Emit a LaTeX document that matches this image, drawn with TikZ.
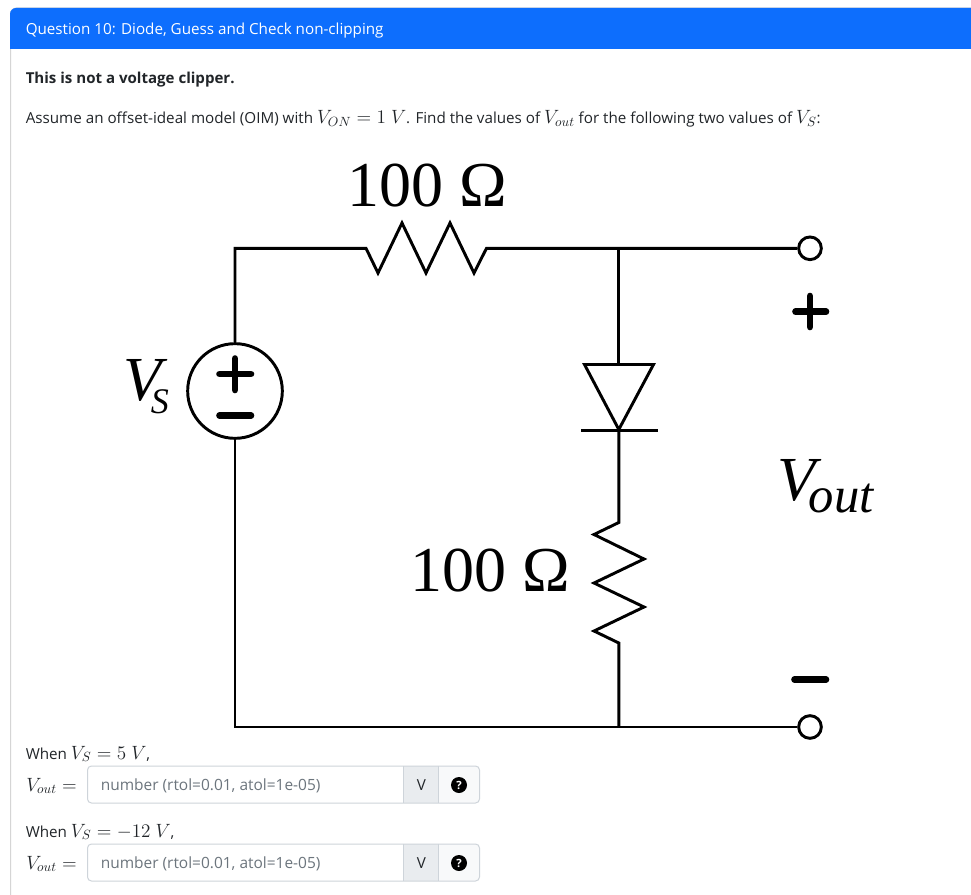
\documentclass[tikz,border=0pt]{standalone}
\usepackage{fontspec}
\usepackage{amsmath}
\setmainfont{Open Sans}
\definecolor{hdrblue}{HTML}{0D6EFD}
\definecolor{inkdark}{HTML}{212529}
\definecolor{bordergrey}{HTML}{CED4DA}
\definecolor{cardgrey}{HTML}{D5D5D5}
\definecolor{addongrey}{HTML}{E9ECEF}
\definecolor{addonlight}{HTML}{F8F9FA}
\definecolor{phgrey}{HTML}{6C757D}
\newcommand{\CT}[1]{\fontsize{#1}{#1}\selectfont}
\newcommand{\Mth}[1]{{\CT{14.5}$#1$}}
\newfontfamily\capfont{Liberation Serif}
\tikzset{
  x=0.75pt,y=-0.75pt,
  wire/.style={line width=2.2pt,black,line join=miter},
  thick sign/.style={line width=5pt,black,line cap=round},
  page text/.style={anchor=base west,inner sep=0pt,text=inkdark,font=\CT{11.4}},
  field/.style={draw=bordergrey,line width=0.75pt,rounded corners=3pt},
  terminal/.style={circle,draw=black,line width=2.2pt,fill=white,minimum size=17pt,inner sep=0pt},
  source/.style={circle,draw=black,line width=2.2pt,fill=white,minimum size=71pt,inner sep=0pt},
  cap math/.style={inner sep=0pt,anchor=base,text=black},
  phtext/.style={anchor=base west,inner sep=0pt,text=phgrey,font=\CT{11.6}},
  help/.style={circle,fill=black,text=white,minimum size=12pt,inner sep=0pt,font=\CT{8.5}\bfseries},
}
\begin{document}
\begin{tikzpicture}
\useasboundingbox (0,0) rectangle (971,895);
\fill[white] (0,0) rectangle (971,895);
% card
\draw[cardgrey,line width=0.75pt] (10.5,895) -- (10.5,14) arc[start angle=180,end angle=270,radius=6] -- (971,8);
\path[fill=hdrblue] (10,49) -- (10,14) arc[start angle=180,end angle=270,radius=6] -- (971,8) -- (971,49) -- cycle;
\node[page text,text=white] (title) at (25.5,34.5) {Question 10: Diode, Guess and Check non-clipping};
\node[page text,font=\CT{11.3}\bfseries] (bold) at (25.5,83.5) {This is not a voltage clipper.};
\node[page text] (intro) at (25.5,123.5) {Assume an offset-ideal model (OIM) with \Mth{V_{ON}=1\ V}. Find the values of \Mth{V_{out}} for the following two values of \Mth{V_S}:};
% circuit junctions
\coordinate (tl) at (235,248.3);
\coordinate (r1a) at (366,248.3);
\coordinate (r1b) at (486.5,248.3);
\coordinate (top) at (618.8,248.3);
\coordinate (bl) at (235,727);
\coordinate (bot) at (618.8,727);
\coordinate (dtop) at (618.8,364.5);
\coordinate (dbot) at (618.8,430);
\coordinate (r2a) at (618.8,522.5);
\coordinate (r2b) at (618.8,643);
\node[source] (vs) at (235,391) {};
\node[terminal] (tp) at (810,248.3) {};
\node[terminal] (tm) at (810,727) {};
\draw[wire] (vs.north) -- (tl) -- (r1a) -- (378,273) -- (402,223) -- (426,273) -- (450,223) -- (474,273) -- (r1b) -- (top) -- (tp.west);
\draw[wire] (top) -- (dtop);
\draw[wire] (584.5,364.5) -- (653.5,364.5) -- (618.8,429.5) -- cycle;
\draw[wire] (581,430.5) -- (657.5,430.5);
\draw[wire] (dbot) -- (r2a) -- (594,534.5) -- (644,559) -- (594,583) -- (644,607) -- (594,631) -- (r2b) -- (bot);
\draw[wire] (vs.south) -- (bl) -- (bot) -- (tm.west);
% signs
\draw[thick sign] (235,358.5) -- (235,390) (219.5,374) -- (251,374);
\draw[thick sign] (219.5,415.5) -- (251,415.5);
\draw[thick sign] (810,296) -- (810,327) (795.5,311.7) -- (826,311.7);
\draw[thick sign] (794.5,679.5) -- (826,679.5);
% labels
\node[cap math,font=\capfont\CT{48}] (ra) at (427.5,206) {100 Ω};
\node[cap math,font=\capfont\CT{48}] (rb) at (490,591) {100 Ω};
\node[cap math,anchor=base west,font=\capfont\itshape\CT{47}] (vsl) at (123,400) {V\kern-8pt\raisebox{-10pt}{\CT{27}S}};
\node[cap math,anchor=base west,font=\capfont\itshape\CT{47}] (vo) at (777,500) {V\kern-5pt\raisebox{-9pt}{\CT{38}out}};
% form
\node[page text] (w1) at (25.5,759) {When \Mth{V_S=5\ V},};
\node[page text] (o1) at (26,791) {\Mth{V_{out}=}};
\node[page text] (w2) at (25.5,837) {When \Mth{V_S=-12\ V},};
\node[page text] (o2) at (26,869) {\Mth{V_{out}=}};
\foreach \n/\y in {a/766,b/844}{
  \fill[addonlight,rounded corners=3pt] (430,\y) rectangle (479.5,\y+37);
  \fill[addongrey] (403,\y) rectangle (438.5,\y+37);
  \draw[field] (87.5,\y) rectangle (479.5,\y+37);
  \draw[bordergrey,line width=0.75pt] (403,\y) -- (403,\y+37) (438.5,\y) -- (438.5,\y+37);
  \node[phtext] (ph\n) at (100.5,\y+24.5) {number (rtol=0.01, atol=1e-05)};
  \node[page text,text=inkdark] (v\n) at (416.5,\y+24.5) {V};
  \node[help] (h\n) at (459,\y+19) {?};
}
\end{tikzpicture}
\end{document}
